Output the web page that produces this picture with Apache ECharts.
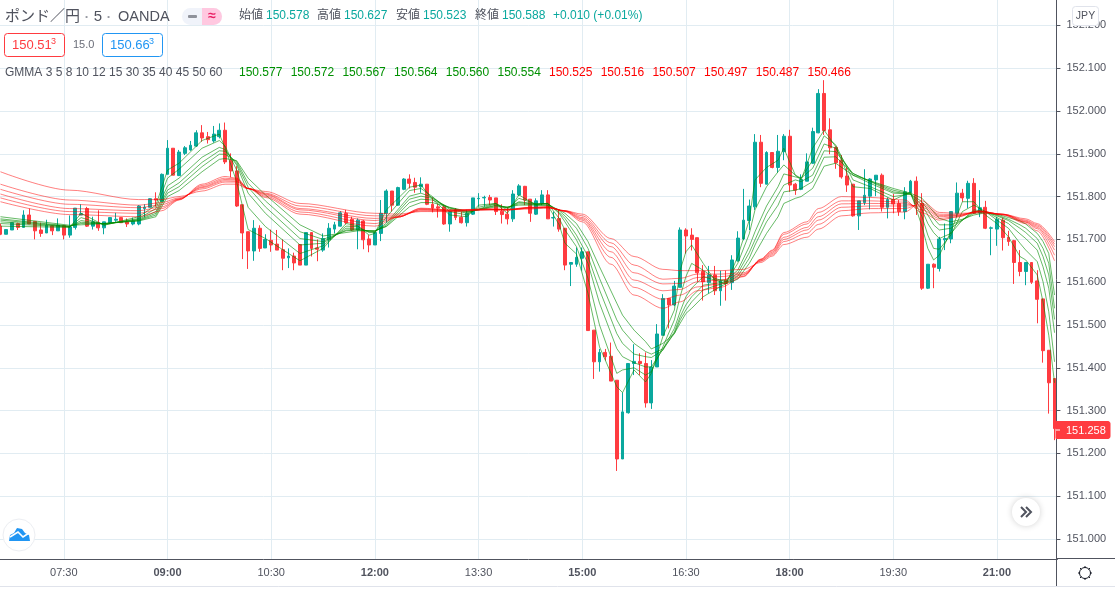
<!DOCTYPE html>
<html>
<head>
<meta charset="utf-8">
<style>
    html, body { margin: 0; padding: 0; background: #fff; }
    #chart { width: 1115px; height: 591px; }
</style>
<script src="https://cdn.jsdelivr.net/npm/echarts@6/dist/echarts.min.js"></script>
</head>
<body>
<div id="chart"></div>
<script>
const upColor = "#0aa89e";
const downColor = "#ff3b40";
const gridColor = "#e1ecf2";
const axisColor = "#50535e";
const textColor = "#50535e";
const latin = '"Liberation Sans", "Noto Sans CJK JP"';

const priceTicks = [151.0, 151.1, 151.2, 151.3, 151.4, 151.5, 151.6, 151.7, 151.8, 151.9, 152.0, 152.1, 152.2];

const opens = [
    151.731,151.712,151.722,151.737,151.728,151.757,151.742,151.722,151.715,151.732,
    151.720,151.732,151.710,151.728,151.757,151.772,151.731,151.739,151.727,151.739,
    151.745,151.751,151.741,151.736,151.736,151.772,151.775,151.795,151.789,151.852,
    151.913,151.849,151.901,151.909,151.918,151.949,151.940,151.930,151.940,151.955,
    151.884,151.860,151.781,151.718,151.673,151.726,151.680,151.698,151.689,151.676,
    151.657,151.661,151.688,151.640,151.716,151.680,151.675,151.699,151.724,151.731,
    151.761,151.747,151.722,151.743,151.701,151.687,151.714,151.761,151.813,151.780,
    151.817,151.841,151.833,151.823,151.829,151.782,151.776,151.776,151.736,151.769,
    151.752,151.739,151.759,151.795,151.797,151.798,151.797,151.766,151.759,151.748,
    151.804,151.824,151.794,151.759,151.784,151.804,151.750,151.749,151.726,151.642,
    151.642,151.656,151.671,151.488,151.414,151.436,151.427,151.371,151.187,151.295,
    151.410,151.415,151.410,151.318,151.402,151.476,151.562,151.547,151.588,151.722,
    151.710,151.704,151.625,151.599,151.617,151.580,151.605,151.599,151.650,151.701,
    151.744,151.776,151.927,151.829,151.903,151.868,151.905,151.941,151.829,151.817,
    151.836,151.878,151.949,152.041,151.956,151.915,151.885,151.848,151.829,151.755,
    151.786,151.801,151.839,151.850,151.775,151.793,151.784,151.765,151.809,151.836,
    151.784,151.586,151.642,151.632,151.699,151.701,151.761,151.808,151.796,151.831,
    151.762,151.775,151.726,151.724,151.745,151.705,151.697,151.646,151.625,151.646,
    151.603,151.561,151.441,151.375
];
const closes = [
    151.712,151.723,151.739,151.728,151.757,151.736,151.720,151.714,151.733,151.720,
    151.733,151.710,151.729,151.773,151.760,151.731,151.741,151.727,151.741,151.751,
    151.747,151.739,151.736,151.743,151.778,151.775,151.795,151.792,151.852,151.913,
    151.850,151.904,151.914,151.920,151.949,151.937,151.933,151.946,151.955,151.881,
    151.860,151.778,151.715,151.673,151.726,151.679,151.700,151.687,151.675,151.656,
    151.661,151.645,151.640,151.716,151.679,151.677,151.702,151.726,151.734,151.762,
    151.739,151.722,151.745,151.699,151.687,151.716,151.761,151.813,151.780,151.821,
    151.841,151.831,151.822,151.829,151.782,151.773,151.773,151.736,151.765,151.751,
    151.739,151.761,151.797,151.796,151.798,151.792,151.765,151.758,151.748,151.806,
    151.825,151.792,151.761,151.790,151.804,151.748,151.751,151.724,151.640,151.646,
    151.658,151.671,151.487,151.414,151.436,151.426,151.369,151.187,151.297,151.410,
    151.415,151.410,151.318,151.402,151.479,151.562,151.547,151.591,151.722,151.708,
    151.700,151.622,151.601,151.617,151.580,151.603,151.597,151.652,151.703,151.745,
    151.778,151.927,151.831,151.903,151.868,151.906,151.941,151.827,151.815,151.840,
    151.881,151.952,152.041,151.954,151.914,151.879,151.846,151.827,151.755,151.790,
    151.803,151.841,151.850,151.775,151.793,151.783,151.765,151.811,151.836,151.783,
    151.586,151.642,151.635,151.701,151.702,151.765,151.808,151.797,151.831,151.761,
    151.774,151.726,151.727,151.747,151.704,151.695,151.646,151.625,151.646,151.600,
    151.560,151.440,151.365,151.258
];
const lows = [
    151.710,151.712,151.722,151.722,151.728,151.736,151.700,151.706,151.715,151.710,
    151.720,151.700,151.704,151.723,151.757,151.729,151.723,151.720,151.712,151.736,
    151.741,151.739,151.729,151.733,151.733,151.751,151.775,151.776,151.788,151.852,
    151.850,151.848,151.897,151.907,151.916,151.928,151.924,151.926,151.936,151.876,
    151.845,151.776,151.654,151.631,151.650,151.671,151.680,151.671,151.675,151.628,
    151.633,151.628,151.640,151.640,151.660,151.649,151.671,151.681,151.714,151.730,
    151.735,151.720,151.677,151.677,151.670,151.687,151.696,151.739,151.765,151.778,
    151.815,151.819,151.809,151.809,151.780,151.763,151.751,151.734,151.718,151.745,
    151.737,151.730,151.757,151.776,151.776,151.780,151.757,151.737,151.735,151.741,
    151.802,151.780,151.741,151.757,151.780,151.748,151.730,151.718,151.628,151.591,
    151.636,151.627,151.487,151.374,151.391,151.417,151.369,151.159,151.187,151.293,
    151.383,151.383,151.307,151.304,151.402,151.476,151.492,151.544,151.588,151.667,
    151.674,151.601,151.557,151.574,151.570,151.545,151.557,151.582,151.648,151.698,
    151.722,151.769,151.822,151.829,151.866,151.856,151.885,151.811,151.804,151.815,
    151.836,151.876,151.948,151.944,151.899,151.865,151.842,151.811,151.753,151.722,
    151.780,151.770,151.801,151.765,151.749,151.761,151.755,151.747,151.808,151.757,
    151.582,151.584,151.586,151.625,151.675,151.691,151.752,151.788,151.773,151.759,
    151.752,151.724,151.663,151.685,151.674,151.685,151.596,151.614,151.593,151.596,
    151.504,151.412,151.293,151.231
];
const highs = [
    151.737,151.723,151.739,151.739,151.768,151.772,151.742,151.739,151.746,151.733,
    151.749,151.733,151.756,151.773,151.782,151.776,151.753,151.768,151.741,151.751,
    151.762,151.751,151.749,151.751,151.780,151.782,151.796,151.810,151.854,151.932,
    151.913,151.909,151.918,151.930,151.955,151.967,151.951,151.965,151.971,151.973,
    151.901,151.871,151.781,151.718,151.745,151.733,151.712,151.723,151.722,151.700,
    151.679,151.669,151.688,151.716,151.716,151.700,151.714,151.738,151.741,151.766,
    151.769,151.753,151.749,151.745,151.710,151.716,151.792,151.817,151.813,151.823,
    151.843,151.852,151.844,151.845,151.829,151.798,151.783,151.780,151.767,151.773,
    151.765,151.769,151.797,151.808,151.802,151.804,151.797,151.782,151.776,151.815,
    151.829,151.825,151.794,151.796,151.815,151.815,151.765,151.770,151.726,151.646,
    151.681,151.681,151.671,151.488,151.444,151.444,151.459,151.371,151.342,151.410,
    151.455,151.434,151.436,151.418,151.502,151.572,151.562,151.603,151.728,151.726,
    151.726,151.704,151.640,151.638,151.638,151.627,151.627,151.663,151.719,151.818,
    151.793,151.946,151.944,151.906,151.903,151.944,151.946,151.956,151.832,151.852,
    151.901,151.961,152.051,152.072,151.983,151.917,151.897,151.868,151.829,151.790,
    151.864,151.843,151.850,151.854,151.798,151.806,151.792,151.822,151.839,151.847,
    151.808,151.642,151.644,151.706,151.737,151.765,151.833,151.818,151.837,151.843,
    151.815,151.790,151.730,151.753,151.751,151.720,151.699,151.675,151.646,151.646,
    151.628,151.561,151.441,151.375
];

// bars the short lines were read at, the bars in between are just joined up
const shortBars = [
    0,12,14,18,24,27,29,31,35,38,39,41,43,46,52,
    56,60,62,64,65,67,71,73,75,78,81,83,86,88,90,93,95,97,98,
    100,102,104,107,108,110,112,113,115,117,118,119,120,122,124,
    126,128,130,131,133,135,136,138,139,141,143,145,148,151,155,
    158,160,161,162,163,165,167,169,171,173,175,177,178,180,181,182,183
];
const gmma3 = [
    151.731,151.728,151.761,151.733,151.753,151.780,151.862,151.878,151.931,151.946,151.914,151.835,151.723,151.702,151.650,
    151.679,151.737,151.732,151.710,151.714,151.769,151.822,151.827,151.794,151.757,151.753,151.780,151.784,151.761,151.804,151.780,151.780,151.734,151.691,
    151.666,151.574,151.449,151.356,151.342,151.395,151.367,151.387,151.473,151.535,151.628,151.671,151.687,151.644,151.605,
    151.596,151.660,151.745,151.839,151.868,151.885,151.913,151.850,151.839,151.913,151.955,151.917,151.823,151.819,151.792,
    151.811,151.730,151.679,151.652,151.663,151.718,151.788,151.788,151.757,151.737,151.706,151.660,151.652,151.617,151.554,151.476,151.365
];
const gmma5 = [
    151.737,151.729,151.751,151.734,151.749,151.772,151.843,151.864,151.913,151.931,151.918,151.862,151.775,151.730,151.667,
    151.685,151.731,151.730,151.716,151.716,151.752,151.814,151.819,151.800,151.765,151.757,151.775,151.784,151.769,151.796,151.783,151.784,151.749,151.722,
    151.683,151.609,151.500,151.387,151.395,151.400,151.383,151.391,151.449,151.512,151.566,151.613,151.644,151.628,151.609,
    151.601,151.644,151.713,151.769,151.823,151.858,151.874,151.850,151.843,151.885,151.942,151.921,151.839,151.823,151.800,
    151.806,151.753,151.710,151.679,151.677,151.710,151.765,151.780,151.765,151.745,151.726,151.691,151.675,151.648,151.601,151.531,151.414
];
const gmma8 = [
    151.741,151.730,151.744,151.736,151.747,151.765,151.825,151.843,151.892,151.915,151.910,151.874,151.808,151.761,151.687,
    151.691,151.726,151.726,151.718,151.718,151.738,151.801,151.808,151.798,151.770,151.761,151.771,151.783,151.773,151.788,151.783,151.784,151.761,151.741,
    151.699,151.644,151.551,151.445,151.426,151.412,151.402,151.402,151.443,151.492,151.531,151.566,151.586,151.613,151.605,
    151.605,151.628,151.683,151.718,151.778,151.823,151.853,151.846,151.843,151.866,151.923,151.913,151.850,151.831,151.808,
    151.806,151.769,151.737,151.716,151.702,151.714,151.745,151.769,151.765,151.751,151.737,151.713,151.702,151.675,151.636,151.586,151.482
];
const gmma10 = [
    151.745,151.730,151.740,151.737,151.745,151.761,151.815,151.832,151.880,151.907,151.906,151.878,151.822,151.776,151.702,
    151.695,151.722,151.723,151.720,151.719,151.734,151.794,151.801,151.796,151.773,151.763,151.770,151.780,151.774,151.786,151.782,151.784,151.763,151.749,
    151.710,151.660,151.582,151.480,151.457,151.432,151.426,151.424,151.441,151.484,151.519,151.547,151.566,151.593,151.597,
    151.601,151.621,151.669,151.699,151.759,151.804,151.827,151.839,151.835,151.850,151.907,151.905,151.854,151.835,151.811,
    151.806,151.780,151.757,151.734,151.722,151.726,151.745,151.765,151.765,151.755,151.744,151.726,151.716,151.691,151.660,151.617,151.513
];
const gmma12 = [
    151.748,151.731,151.737,151.737,151.744,151.757,151.808,151.823,151.870,151.899,151.899,151.882,151.831,151.790,151.718,
    151.700,151.720,151.722,151.720,151.720,151.731,151.786,151.794,151.792,151.774,151.765,151.769,151.779,151.775,151.783,151.781,151.783,151.767,151.755,
    151.726,151.679,151.609,151.512,151.488,151.457,151.438,151.432,151.444,151.480,151.512,151.535,151.554,151.582,151.591,
    151.599,151.614,151.656,151.687,151.741,151.780,151.811,151.815,151.819,151.835,151.892,151.893,151.854,151.836,151.815,
    151.806,151.788,151.769,151.749,151.734,151.734,151.745,151.761,151.764,151.757,151.747,151.734,151.726,151.702,151.679,151.644,151.539
];
const gmma15 = [
    151.753,151.733,151.734,151.737,151.743,151.753,151.800,151.814,151.858,151.887,151.889,151.884,151.843,151.804,151.734,
    151.708,151.716,151.720,151.720,151.720,151.730,151.776,151.786,151.786,151.775,151.766,151.769,151.776,151.776,151.780,151.780,151.780,151.769,151.761,
    151.737,151.695,151.636,151.551,151.523,151.488,151.461,151.444,151.457,151.480,151.504,151.527,151.539,151.566,151.582,
    151.597,151.607,151.644,151.667,151.714,151.753,151.784,151.796,151.800,151.819,151.871,151.878,151.850,151.837,151.819,
    151.808,151.796,151.780,151.765,151.749,151.741,151.747,151.757,151.762,151.759,151.751,151.743,151.736,151.714,151.695,151.667,151.570
];

const longBars = [
    0,12,24,28,31,35,39,41,43,46,52,
    65,69,73,78,85,88,92,95,98,
    101,106,110,115,118,121,
    125,129,132,134,136,140,142,146,151,157,
    160,163,166,170,174,178,180,183
];
const gmma30 = [
    151.788,151.758,151.753,151.767,151.792,151.829,151.847,151.843,151.819,151.798,151.759,
    151.731,151.752,151.773,151.769,151.771,151.770,151.775,151.776,151.765,
    151.741,151.642,151.570,151.539,151.554,151.580,
    151.588,151.613,151.654,151.675,151.716,151.741,151.772,151.800,151.798,151.792,
    151.762,151.745,151.752,151.767,151.757,151.737,151.720,151.650
];
const gmma35 = [
    151.797,151.765,151.761,151.772,151.793,151.826,151.843,151.841,151.819,151.801,151.764,
    151.737,151.752,151.772,151.768,151.771,151.770,151.775,151.776,151.766,
    151.745,151.658,151.588,151.560,151.570,151.589,
    151.596,151.614,151.653,151.673,151.712,151.736,151.763,151.790,151.790,151.787,
    151.769,151.749,151.753,151.766,151.758,151.740,151.725,151.663
];
const gmma40 = [
    151.806,151.772,151.767,151.776,151.794,151.823,151.840,151.839,151.819,151.804,151.769,
    151.744,151.752,151.770,151.768,151.770,151.769,151.774,151.775,151.766,
    151.748,151.671,151.605,151.580,151.583,151.601,
    151.605,151.617,151.652,151.670,151.705,151.728,151.753,151.783,151.784,151.783,
    151.775,151.753,151.755,151.766,151.758,151.741,151.728,151.675
];
const gmma45 = [
    151.817,151.782,151.774,151.781,151.795,151.821,151.837,151.836,151.819,151.806,151.772,
    151.749,151.753,151.769,151.767,151.770,151.769,151.773,151.775,151.767,
    151.751,151.683,151.622,151.596,151.597,151.611,
    151.613,151.619,151.650,151.667,151.700,151.722,151.745,151.775,151.778,151.778,
    151.780,151.756,151.756,151.765,151.759,151.743,151.731,151.683
];
const gmma50 = [
    151.829,151.792,151.780,151.786,151.797,151.818,151.834,151.834,151.819,151.808,151.778,
    151.755,151.755,151.767,151.766,151.769,151.769,151.773,151.774,151.767,
    151.755,151.692,151.640,151.607,151.609,151.619,
    151.619,151.622,151.649,151.664,151.695,151.714,151.735,151.767,151.772,151.772,
    151.784,151.759,151.758,151.764,151.759,151.745,151.734,151.689
];
const gmma60 = [
    151.858,151.815,151.793,151.793,151.800,151.813,151.829,151.829,151.818,151.812,151.784,
    151.761,151.759,151.765,151.765,151.769,151.769,151.771,151.773,151.767,
    151.759,151.702,151.660,151.630,151.627,151.627,
    151.627,151.630,151.646,151.661,151.688,151.705,151.724,151.755,151.762,151.764,
    151.790,151.763,151.761,151.762,151.759,151.748,151.737,151.695
];

const headerItems = [
    { name: "始値", value: "150.578", x: 239 },
    { name: "高値", value: "150.627", x: 317 },
    { name: "安値", value: "150.523", x: 396 },
    { name: "終値", value: "150.588", x: 475 }
];
const headerChange = "+0.010 (+0.01%)";
const gmmaTitle = "GMMA 3 5 8 10 12 15 30 35 40 45 50 60";
const gmmaShortValues = ["150.577", "150.572", "150.567", "150.564", "150.560", "150.554"];
const gmmaLongValues = ["150.525", "150.516", "150.507", "150.497", "150.487", "150.466"];
const lastPrice = 151.258;

const times = timeLabels(6 * 60 + 35, opens.length);

function timeLabels(start, count) {
    const labels = [];

    for ( let i = 0; i < count; i++ ) {
        const minutes = start + i * 5;
        const hour = Math.floor(minutes / 60);
        labels.push(String(hour).padStart(2, "0") + ":" + String(minutes % 60).padStart(2, "0"));
    }

    return labels;
}

function isTimeTick(i) {
    return i % 18 === 11;
}

function lineSeries(bars, values, color, smooth=false) {
    return {
        type: "line",
        data: bars.map((bar, i) => [bar, values[i]]),
        showSymbol: false,
        silent: true,
        animation: false,
        smooth,
        smoothMonotone: "x",
        lineStyle: { color, width: 1 },
        z: 3
    };
}

function text(value, x, y, fill, font, align="left") {
    return {
        type: "text",
        z: 20,
        silent: true,
        style: { text: value, x, y, fill, font, align, verticalAlign: "middle" }
    };
}

function box(x, y, width, height, stroke, fill="#fff", r=3) {
    return {
        type: "rect",
        z: 19,
        silent: true,
        shape: { x, y, width, height, r },
        style: { fill, stroke, lineWidth: 1 }
    };
}

function line(x1, y1, x2, y2, stroke, lineWidth=1) {
    return {
        type: "line",
        z: 19,
        silent: true,
        shape: { x1, y1, x2, y2 },
        style: { stroke, lineWidth }
    };
}

function polyline(points, stroke, lineWidth, z=20) {
    return {
        type: "polyline",
        z,
        silent: true,
        shape: { points },
        style: { fill: null, stroke, lineWidth }
    };
}

function headerGraphics() {
    const font = "12px " + latin;
    const items = [
        text("ポンド／円", 5, 17, textColor, "15px " + latin),
        text("·", 87, 17, "#9598a1", "bold 13px " + latin, "center"),
        text("5", 98, 17, textColor, "15px " + latin, "center"),
        text("·", 109, 17, "#9598a1", "bold 13px " + latin, "center"),
        text("OANDA", 118, 17, textColor, "14.5px " + latin),

        { type: "rect", z: 19, silent: true, shape: { x: 182, y: 8, width: 40, height: 17, r: 8.5 }, style: { fill: "#f0f3fa" } },
        { type: "rect", z: 19, silent: true, shape: { x: 202, y: 8, width: 20, height: 17, r: [0, 8.5, 8.5, 0] }, style: { fill: "#ffc8e0" } },
        { type: "rect", z: 20, silent: true, shape: { x: 188, y: 15, width: 9, height: 3, r: 1 }, style: { fill: "#8f929b" } },
        text("≈", 212, 16, "#e91e63", "bold 14px " + latin, "center"),

        box(4.5, 33.5, 60, 23, downColor),
        text("150.51", 12, 45, downColor, "13px " + latin),
        text("3", 51, 42, downColor, "9px " + latin),
        text("15.0", 73, 45, "#6a6d78", "11px " + latin),
        box(102.5, 33.5, 60, 23, "#2196f3"),
        text("150.66", 110, 45, "#2196f3", "13px " + latin),
        text("3", 149, 42, "#2196f3", "9px " + latin),

        text(gmmaTitle, 5, 73, textColor, "12px " + latin),
        text(headerChange, 553, 16, "#0aa89e", font)
    ];

    headerItems.forEach(item => {
        items.push(text(item.name, item.x, 16, textColor, font));
        items.push(text(item.value, item.x + 27, 16, "#0aa89e", font));
    });

    gmmaShortValues.forEach((value, i) => {
        items.push(text(value, 239 + i * 51.7, 73, "#009000", "12px " + latin));
    });

    gmmaLongValues.forEach((value, i) => {
        items.push(text(value, 549 + i * 51.7, 73, "#ff0000", "12px " + latin));
    });

    return items;
}

function panelGraphics() {
    const gearDark = "#131722";

    return [
        line(1056.5, 559, 1056.5, 586, axisColor),
        line(1056, 558.5, 1115, 558.5, axisColor),
        line(0, 586.5, 1115, 586.5, "#e0e3eb"),

        box(1072.5, 6.5, 26, 19, "#e0e3eb"),
        text("JPY", 1085.5, 16, textColor, "10.5px " + latin, "center"),

        box(1056, 421.5, 54, 17, downColor, downColor, [0, 2, 2, 0]),
        line(1056, 430, 1060, 430, "#fff"),
        text(lastPrice.toFixed(3), 1066, 430.5, "#fff", "11px " + latin),

        { type: "circle", z: 19, silent: true, shape: { cx: 1085, cy: 573, r: 5.5 }, style: { fill: "#fff", stroke: gearDark, lineWidth: 1 } },
        line(1085, 566, 1085, 568, gearDark),
        line(1085, 578, 1085, 580, gearDark),
        line(1078, 573, 1080, 573, gearDark),
        line(1090, 573, 1092, 573, gearDark),
        line(1080, 568, 1081.5, 569.5, gearDark),
        line(1088.5, 576.5, 1090, 578, gearDark),
        line(1080, 578, 1081.5, 576.5, gearDark),
        line(1088.5, 569.5, 1090, 568, gearDark),

        { type: "circle", z: 19, silent: true, shape: { cx: 1026, cy: 512, r: 14 }, style: { fill: "#fff", shadowBlur: 6, shadowColor: "rgba(0,0,0,.18)" } },
        polyline([[1021, 507], [1026, 512], [1021, 517]], axisColor, 2),
        polyline([[1026, 507], [1031, 512], [1026, 517]], axisColor, 2),

        { type: "circle", z: 19, silent: true, shape: { cx: 19, cy: 535, r: 16 }, style: { fill: "#fff", stroke: "#eceef2", lineWidth: 1 } },
        { type: "polygon", z: 20, silent: true, shape: { points: [[9, 541], [10, 535], [14, 533], [17, 528], [22, 529], [25, 533], [29, 535], [30, 541]] }, style: { fill: "#2196f3" } },
        polyline([[10, 537], [18, 532], [23, 537], [29, 533]], "#fff", 1.6, 21)
    ];
}

const chart = echarts.init(document.getElementById("chart"), null, { renderer: "canvas" });

chart.setOption({
    animation: false,
    backgroundColor: "#fff",
    grid: {
        left: -2.42,
        top: 0,
        width: 1059.84,
        height: 559,
        outerBoundsMode: "none"
    },
    xAxis: {
        type: "category",
        data: times,
        boundaryGap: true,
        axisLine: { lineStyle: { color: axisColor, width: 1 } },
        axisTick: {
            length: 4,
            alignWithLabel: true,
            interval: isTimeTick,
            lineStyle: { color: axisColor }
        },
        splitLine: {
            show: true,
            alignWithLabel: true,
            interval: isTimeTick,
            lineStyle: { color: gridColor, width: 1 }
        },
        axisLabel: {
            interval: isTimeTick,
            margin: 8,
            fontFamily: "Liberation Sans",
            fontSize: 11,
            color: textColor,
            formatter: value => Number(value.slice(0, 2)) % 3 === 0 && value.endsWith(":00") ? "{b|" + value + "}" : value,
            rich: {
                b: { fontFamily: "Liberation Sans", fontSize: 11, fontWeight: 700, color: textColor }
            }
        }
    },
    yAxis: {
        type: "value",
        position: "right",
        offset: -1,
        min: 150.9533,
        max: 152.2593,
        scale: true,
        axisLine: { show: true, lineStyle: { color: axisColor, width: 1 } },
        axisTick: {
            show: true,
            length: 4,
            customValues: priceTicks,
            lineStyle: { color: axisColor }
        },
        splitLine: {
            show: true,
            lineStyle: { color: gridColor, width: 1 }
        },
        axisLabel: {
            margin: 10,
            customValues: priceTicks,
            fontFamily: "Liberation Sans",
            fontSize: 11,
            color: textColor,
            formatter: value => value.toFixed(3)
        }
    },
    series: [
        {
            type: "candlestick",
            data: opens.map((open, i) => [open, closes[i], lows[i], highs[i]]),
            barWidth: 3.4,
            silent: true,
            animation: false,
            z: 2,
            itemStyle: {
                color: upColor,
                color0: downColor,
                borderColor: upColor,
                borderColor0: downColor,
                borderWidth: 1
            }
        },
        lineSeries(shortBars, gmma3, "rgba(0,140,0,.6)"),
        lineSeries(shortBars, gmma5, "rgba(0,140,0,.6)"),
        lineSeries(shortBars, gmma8, "rgba(0,140,0,.6)"),
        lineSeries(shortBars, gmma10, "rgba(0,140,0,.6)"),
        lineSeries(shortBars, gmma12, "rgba(0,140,0,.6)"),
        lineSeries(shortBars, gmma15, "rgba(0,140,0,.6)"),
        lineSeries(longBars, gmma30, "rgba(255,0,0,.5)", 0.3),
        lineSeries(longBars, gmma35, "rgba(255,0,0,.5)", 0.3),
        lineSeries(longBars, gmma40, "rgba(255,0,0,.5)", 0.3),
        lineSeries(longBars, gmma45, "rgba(255,0,0,.5)", 0.3),
        lineSeries(longBars, gmma50, "rgba(255,0,0,.5)", 0.3),
        lineSeries(longBars, gmma60, "rgba(255,0,0,.5)", 0.3)
    ],
    graphic: { elements: headerGraphics().concat(panelGraphics()) }
});
</script>
</body>
</html>
